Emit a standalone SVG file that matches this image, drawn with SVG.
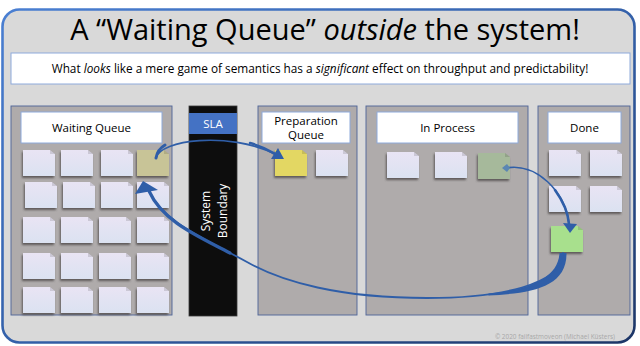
<svg xmlns="http://www.w3.org/2000/svg" width="640" height="346" viewBox="0 0 640 346">
  <defs>
    <linearGradient id="frameStroke" x1="0" y1="0" x2="1" y2="1">
      <stop offset="0" stop-color="#4a7fd2"/>
      <stop offset="0.5" stop-color="#3461aa"/>
      <stop offset="1" stop-color="#1c3566"/>
    </linearGradient>
    <linearGradient id="lav" x1="0" y1="0" x2="0" y2="1">
      <stop offset="0" stop-color="#e9e4f4"/>
      <stop offset="1" stop-color="#dbe2f1"/>
    </linearGradient>
    <filter id="blur" x="-20%" y="-20%" width="140%" height="150%">
      <feGaussianBlur stdDeviation="0.9"/>
    </filter>
    <path id="noteShape" d="M0,0 H27 L32,4 V26 H0 Z"/>
    <path id="noteFold" d="M27,0 L27,4 L32,4 Z"/>
    <g id="note">
      <use href="#noteShape" transform="translate(-1,2)" fill="#4f4b4b" fill-opacity="0.85" filter="url(#blur)"/>
      <use href="#noteShape"/>
      <use href="#noteFold" fill="#000" fill-opacity="0.12"/>
    </g>
  </defs>
  <style>
    text { font-family: "Open Sans", "Liberation Sans", sans-serif; }
    .col { fill: #afabab; stroke: #4d6398; stroke-width: 0.9; }
    .hdr { fill: #ffffff; stroke: #8eaadb; stroke-width: 1; }
    .hdrText { font-size: 11.5px; fill: #000; text-anchor: middle; }
    .lav { fill: url(#lav); }
    .olive { fill: #c8c497; }
    .yellow { fill: #e3d763; }
    .sage { fill: #a6b99b; }
    .green { fill: #a8e08d; }
    .arrow { fill: none; stroke: #2f5ea8; stroke-linecap: round; }
    .head { fill: #2f5ea8; }
  </style>

  <rect width="640" height="346" fill="#ffffff"/>

  <g id="frame">
    <rect x="2.5" y="9.5" width="632" height="333" rx="17" fill="#d9d9d9" stroke="url(#frameStroke)" stroke-width="2.6"/>
  </g>

  <g id="title">
    <text x="325" y="40" font-size="29" text-anchor="middle" fill="#000">A “Waiting Queue” <tspan font-style="italic">outside</tspan> the system!</text>
  </g>

  <g id="subtitle">
    <rect x="11" y="53" width="619" height="31" fill="#ffffff" stroke="#8eaadb" stroke-width="1"/>
    <text x="320" y="72.5" font-size="11.8" text-anchor="middle" fill="#000">What <tspan font-style="italic">looks</tspan> like a mere game of semantics has a <tspan font-style="italic">significant</tspan> effect on throughput and predictability!</text>
  </g>

  <g id="col-waiting">
    <rect class="col" x="11" y="106" width="161" height="209"/>
    <rect class="hdr" x="21" y="112" width="141" height="31"/>
    <text class="hdrText" x="91.5" y="132">Waiting Queue</text>
  </g>

  <g id="system-boundary">
    <rect x="189" y="106" width="48" height="210" fill="#0d0d0d" stroke="#3a3a3a" stroke-width="0.8"/>
    <rect x="189" y="113" width="48" height="21" fill="#4472c4"/>
    <text x="213" y="128" font-size="11.5" fill="#ffffff" text-anchor="middle">SLA</text>
    <text transform="translate(213,211) rotate(-90)" font-size="12" fill="#ffffff" text-anchor="middle"><tspan x="0" y="-3">System</tspan><tspan x="0" y="14">Boundary</tspan></text>
  </g>

  <g id="col-preparation">
    <rect class="col" x="258" y="106" width="99" height="209"/>
    <rect class="hdr" x="262" y="112" width="88" height="31"/>
    <text class="hdrText" x="306" y="124.5"><tspan x="306">Preparation</tspan><tspan x="306" y="139">Queue</tspan></text>
  </g>

  <g id="col-inprocess">
    <rect class="col" x="366" y="106" width="162" height="209"/>
    <rect class="hdr" x="377" y="112" width="141" height="31"/>
    <text class="hdrText" x="447.5" y="132">In Process</text>
  </g>

  <g id="col-done">
    <rect class="col" x="538" y="106" width="92" height="209"/>
    <rect class="hdr" x="548" y="112" width="73" height="31"/>
    <text class="hdrText" x="584.5" y="132">Done</text>
  </g>

  <g id="notes-waiting">
    <g id="wq-1-1" class="lav" transform="translate(23,150)"><use href="#note"/></g>
    <g id="wq-1-2" class="lav" transform="translate(61,150)"><use href="#note"/></g>
    <g id="wq-1-3" class="lav" transform="translate(101,150)"><use href="#note"/></g>
    <g id="wq-1-4" class="olive" transform="translate(137,150)"><use href="#note"/></g>
    <g id="wq-2-1" class="lav" transform="translate(25,182)"><use href="#note"/></g>
    <g id="wq-2-2" class="lav" transform="translate(63,182)"><use href="#note"/></g>
    <g id="wq-2-3" class="lav" transform="translate(101,182)"><use href="#note"/></g>
    <g id="wq-2-4" class="lav" transform="translate(137,182)"><use href="#note"/></g>
    <g id="wq-3-1" class="lav" transform="translate(23,217)"><use href="#note"/></g>
    <g id="wq-3-2" class="lav" transform="translate(61,217)"><use href="#note"/></g>
    <g id="wq-3-3" class="lav" transform="translate(99,217)"><use href="#note"/></g>
    <g id="wq-3-4" class="lav" transform="translate(137,217)"><use href="#note"/></g>
    <g id="wq-4-1" class="lav" transform="translate(23,253)"><use href="#note"/></g>
    <g id="wq-4-2" class="lav" transform="translate(61,253)"><use href="#note"/></g>
    <g id="wq-4-3" class="lav" transform="translate(99,253)"><use href="#note"/></g>
    <g id="wq-4-4" class="lav" transform="translate(137,253)"><use href="#note"/></g>
    <g id="wq-5-1" class="lav" transform="translate(23,287)"><use href="#note"/></g>
    <g id="wq-5-2" class="lav" transform="translate(61,287)"><use href="#note"/></g>
    <g id="wq-5-3" class="lav" transform="translate(99,287)"><use href="#note"/></g>
    <g id="wq-5-4" class="lav" transform="translate(137,287)"><use href="#note"/></g>
  </g>

  <g id="notes-preparation">
    <g id="pq-1" class="yellow" transform="translate(275,150)"><use href="#note"/></g>
    <g id="pq-2" class="lav" transform="translate(316,150)"><use href="#note"/></g>
  </g>

  <g id="notes-inprocess">
    <g id="ip-1" class="lav" transform="translate(387,152)"><use href="#note"/></g>
    <g id="ip-2" class="lav" transform="translate(435,152)"><use href="#note"/></g>
    <g id="ip-3" class="sage" transform="translate(478,153)"><use href="#note"/></g>
  </g>

  <g id="notes-done">
    <g id="dn-1" class="lav" transform="translate(549,150)"><use href="#note"/></g>
    <g id="dn-2" class="lav" transform="translate(590,150)"><use href="#note"/></g>
    <g id="dn-3" class="lav" transform="translate(549,186)"><use href="#note"/></g>
    <g id="dn-4" class="lav" transform="translate(590,186)"><use href="#note"/></g>
    <g id="dn-5" class="green" transform="translate(551,226)"><use href="#note"/></g>
  </g>

  <g id="connectors">
    <!-- waiting queue -> preparation queue -->
    <path class="arrow" d="M156,158 C160,140 228,131 275,154" stroke-width="1.6"/>
    <path class="arrow" d="M156,158 C157,152 160,148 165,145" stroke-width="3" stroke-linecap="butt"/>
    <path class="arrow" d="M250,143 C262,146 268,150 275,154" stroke-width="2.4"/>
    <polygon class="head" points="284,159 271,159 278,148"/>

    <!-- in process -> done -->
    <path class="arrow" d="M506,168 C536,162 566,192 569,224" stroke-width="1.6"/>
    <path class="arrow" d="M555,190 C563,201 568,212 569,224" stroke-width="2.6" stroke-linecap="butt"/>
    <polygon points="502,168 507,164 510,168 507,172" fill="#5b87b3"/>
    <polygon class="head" points="570,233 563,223 577,224"/>

    <!-- done -> back to waiting queue -->
    <path d="M559.5,253 C558,280 525,290.5 488.5,293.4 L488.5,295.4 C530,293.5 567,288 566.5,253 Z" fill="#2f5ea8"/>
    <path class="arrow" d="M563,253 C562,285 500,298 427,298 C340,298 282,282 247,262 C205,239 163,222 149,191" stroke-width="1.8"/>
    <path class="arrow" d="M230,253 C198,236 163,222 149,191" stroke-width="3.2" stroke-linecap="butt"/>
    <polygon class="head" points="143,181 135,194 158,190"/>
  </g>

  <g id="copyright">
    <text x="615" y="339" font-size="6.4" fill="#a8a8a8" text-anchor="end">© 2020 failfastmoveon (Michael Küsters)</text>
  </g>
</svg>
